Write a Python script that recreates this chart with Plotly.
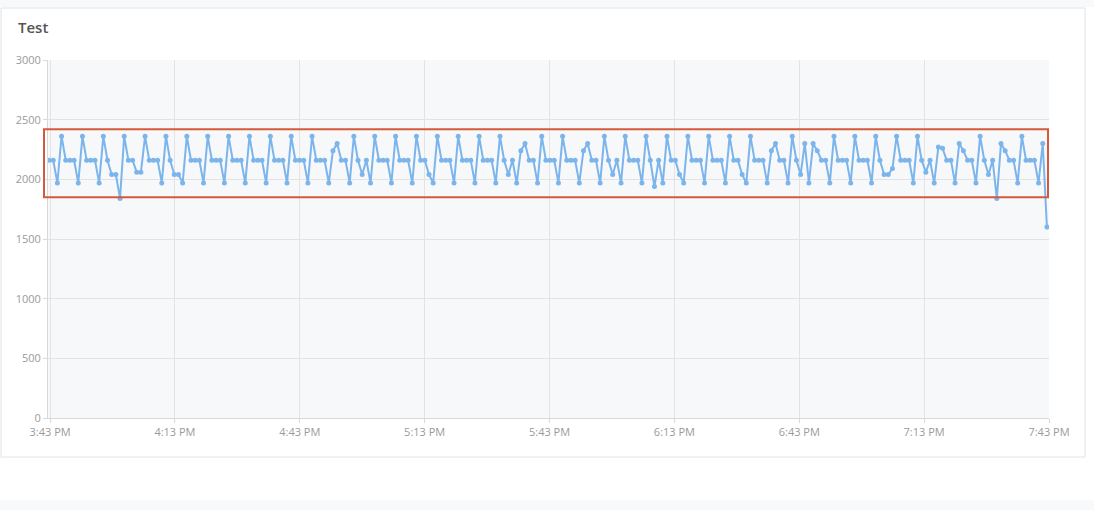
import pandas as pd
import plotly.graph_objects as go

# ---- data (one reading per ~minute) ----
values_part1 = [2160, 2160, 1970, 2360, 2160, 2160, 2160, 1970, 2360, 2160,
                2160, 2160, 1970, 2360, 2160, 2040, 2040, 1840, 2360, 2160,
                2160, 2060, 2060, 2360, 2160, 2160, 2160, 1970, 2360, 2160,
                2040, 2040, 1970, 2360, 2160, 2160, 2160, 1970, 2360]
values_part2 = [2160, 2160, 2160, 1970, 2360, 2160, 2160, 2160, 1970, 2360,
                2160, 2160, 2160, 1970, 2360, 2160, 2160, 2160, 1970, 2360,
                2160, 2160, 2160, 1970, 2360, 2160, 2160, 2160, 1970, 2240,
                2300, 2160, 2160, 1970, 2360, 2160, 2040, 2160]
values_part3 = [1970, 2360, 2160, 2160, 2160, 1970, 2360, 2160, 2160, 2160,
                1970, 2360, 2160, 2160, 2040, 1970, 2360, 2160, 2160, 2160,
                1970, 2360, 2160, 2160, 2160, 1970, 2360, 2160, 2160, 2160,
                1970, 2360, 2160, 2040, 2160, 1970, 2240, 2300, 2160]
values_part4 = [2160, 1970, 2360, 2160, 2160, 2160, 1970, 2360, 2160, 2160,
                2160, 1970, 2240, 2300, 2160, 2160, 1970, 2360, 2160, 2040,
                2160, 1970, 2360, 2160, 2160, 2160, 1970, 2360, 2160, 1940,
                2160, 1970, 2360, 2160, 2160, 2040, 1970, 2360]
values_part5 = [2160, 2160, 2160, 1970, 2360, 2160, 2160, 2160, 1970, 2360,
                2160, 2160, 2040, 1970, 2360, 2160, 2160, 2160, 1970, 2240,
                2300, 2160, 2160, 1970, 2360, 2160, 2040, 2300, 1970, 2300,
                2240, 2160, 2160, 1970, 2360, 2160, 2160, 2160]
values_part6 = [1970, 2360, 2160, 2160, 2160, 1970, 2360, 2160,
                2040, 2040, 2090, 2360, 2160, 2160, 2160, 1970, 2360, 2160,
                2060, 2160, 1970, 2270, 2260, 2160, 2160, 1970, 2300, 2240,
                2160, 2160, 1970, 2360, 2160, 2040, 2160, 1840, 2300, 2240,
                2160, 2160, 1970, 2360, 2160, 2160, 2160, 1970, 2300, 1600]

values = (values_part1 + values_part2 + values_part3 +
          values_part4 + values_part5 + values_part6)

start_time = "2024-01-01 15:42:45"
end_time = "2024-01-01 19:42:30"
times = pd.date_range(start_time, end_time, periods=len(values))

tick_times = ["2024-01-01 15:43", "2024-01-01 16:13", "2024-01-01 16:43",
              "2024-01-01 17:13", "2024-01-01 17:43", "2024-01-01 18:13",
              "2024-01-01 18:43", "2024-01-01 19:13", "2024-01-01 19:43"]
tick_labels = ["3:43 PM", "4:13 PM", "4:43 PM", "5:13 PM", "5:43 PM",
               "6:13 PM", "6:43 PM", "7:13 PM", "7:43 PM"]
y_ticks = [0, 500, 1000, 1500, 2000, 2500, 3000]

highlight_low = 1850
highlight_high = 2420

# ---- figure ----
W, H = 1094, 510
L, R, T, B = 48, 1049, 60, 418  # plot area pixels


def px(xp):
    return (xp - L) / (R - L)


def py(yp):
    return (B - yp) / (B - T)


fig = go.Figure()
fig.add_trace(go.Scatter(
    x=times, y=values, mode="lines+markers",
    line=dict(color="#7cb5ec", width=2),
    marker=dict(color="#7cb5ec", size=5),
    hoverinfo="x+y", showlegend=False,
))

font_family = "Open Sans, Noto Sans, sans-serif"

fig.update_layout(
    width=W, height=H,
    margin=dict(l=L, r=W - R, t=T, b=H - B, pad=0),
    paper_bgcolor="#ffffff",
    plot_bgcolor="#f7f8fa",
    font=dict(family=font_family, size=11, color="#999999"),
    xaxis=dict(
        type="date",
        range=["2024-01-01 15:42:30", "2024-01-01 19:43:00"],
        tickvals=tick_times, ticktext=tick_labels,
        showgrid=True, gridcolor="#e3e3e3", gridwidth=1,
        ticks="outside", ticklen=4, tickcolor="#d8d8d8",
        showline=True, linecolor="#d8d8d8", linewidth=1,
        zeroline=False,
        tickfont=dict(family=font_family, size=11, color="#9a9a9a"),
    ),
    yaxis=dict(
        range=[0, 3000], tickvals=y_ticks,
        showgrid=True, gridcolor="#e3e3e3", gridwidth=1,
        ticks="outside", ticklen=4, tickcolor="#d8d8d8",
        showline=True, linecolor="#d8d8d8", linewidth=1,
        zeroline=False,
        tickfont=dict(family=font_family, size=11, color="#9a9a9a"),
    ),
)

# page bands and card border
fig.add_shape(type="rect", xref="paper", yref="paper",
              x0=px(0), x1=px(W), y0=py(0), y1=py(7),
              fillcolor="#f8f9fb", line=dict(width=0), layer="below")
fig.add_shape(type="rect", xref="paper", yref="paper",
              x0=px(0), x1=px(W), y0=py(500), y1=py(H),
              fillcolor="#f8f9fb", line=dict(width=0), layer="below")
fig.add_shape(type="rect", xref="paper", yref="paper",
              x0=px(1), x1=px(1085), y0=py(8), y1=py(457),
              fillcolor="rgba(0,0,0,0)", line=dict(color="#e2e2e2", width=1),
              layer="below")

# highlight box
fig.add_shape(type="rect", xref="paper", yref="y",
              x0=px(44), x1=px(1048), y0=highlight_low, y1=highlight_high,
              fillcolor="rgba(0,0,0,0)", line=dict(color="#d5593b", width=2),
              layer="above")

fig.add_annotation(text="Test", xref="paper", yref="paper",
                   x=px(16), y=py(27), xanchor="left", yanchor="middle",
                   showarrow=False,
                   font=dict(family=font_family, size=15, color="#555555",
                             weight=600))

fig.write_html("out.html",
               config={"displayModeBar": False},
               post_script="document.body.style.margin='0';"
                           "document.body.style.overflow='hidden';")
